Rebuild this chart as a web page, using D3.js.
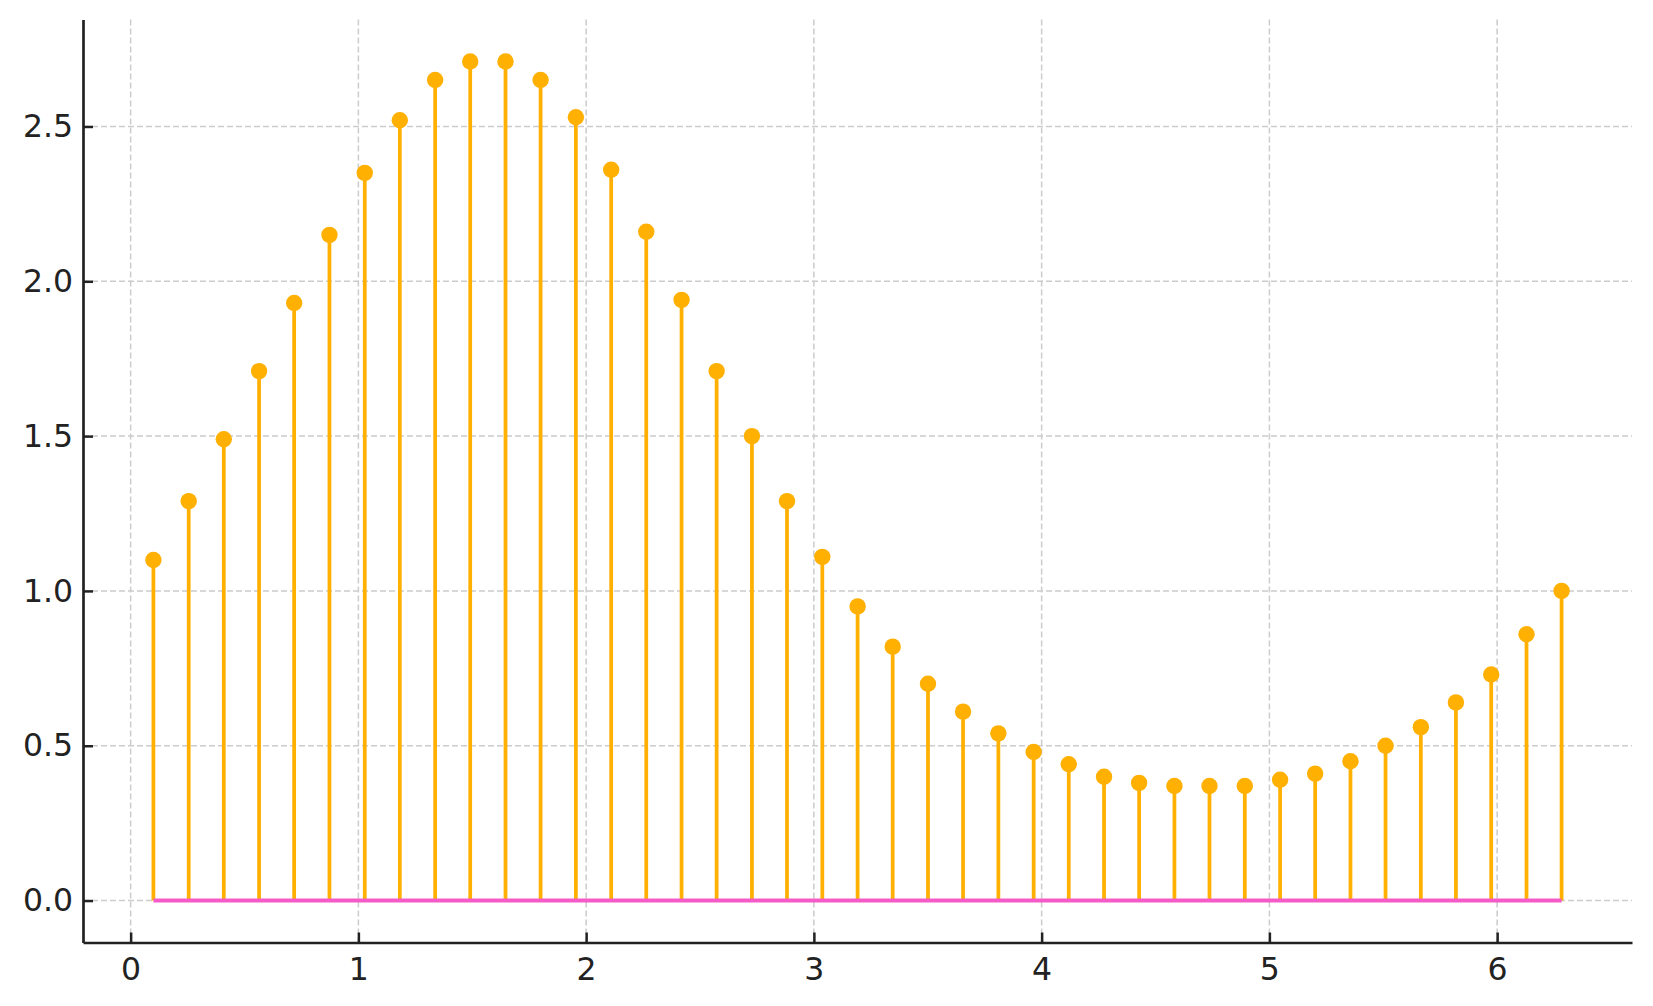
<!DOCTYPE html>
<html>
<head>
<meta charset="utf-8">
<script src="https://cdn.jsdelivr.net/npm/d3@7"></script>
<style>
    body { margin: 0; background: #fff; }
    svg { display: block; font-family: "DejaVu Sans", sans-serif; }
</style>
</head>
<body>
<svg id="chart" width="1653" height="1006"></svg>
<script>
"use strict"

// stem positions (x) and heights (y)
const xValues = [
    0.100, 0.255, 0.409, 0.564, 0.718, 0.873, 1.028, 1.182, 1.337, 1.491,
    1.646, 1.800, 1.955, 2.110, 2.264, 2.419, 2.573, 2.728, 2.882, 3.037,
    3.192, 3.346, 3.501, 3.655, 3.810, 3.965, 4.119, 4.274, 4.428, 4.583,
    4.737, 4.892, 5.047, 5.201, 5.356, 5.510, 5.665, 5.819, 5.974, 6.129,
    6.283
]
const yValues = [
    1.10, 1.29, 1.49, 1.71, 1.93, 2.15, 2.35, 2.52, 2.65, 2.71,
    2.71, 2.65, 2.53, 2.36, 2.16, 1.94, 1.71, 1.50, 1.29, 1.11,
    0.95, 0.82, 0.70, 0.61, 0.54, 0.48, 0.44, 0.40, 0.38, 0.37,
    0.37, 0.37, 0.39, 0.41, 0.45, 0.50, 0.56, 0.64, 0.73, 0.86,
    1.00
]
const xTicks = [0, 1, 2, 3, 4, 5, 6]
const yTicks = [0.0, 0.5, 1.0, 1.5, 2.0, 2.5]

const stemColor = "#ffb000"
const baseColor = "#f55bc8"
const inkColor = "#222222"

const margin = { top: 19.5, right: 21, bottom: 63.5, left: 83 }
const svg = d3.select("#chart")
const width = +svg.attr("width") - margin.left - margin.right
const height = +svg.attr("height") - margin.top - margin.bottom

const g = svg.append("g").attr("transform", `translate(${margin.left},${margin.top})`)

// matplotlib-style 5% margins around the data
const xPad = (d3.max(xValues) - d3.min(xValues)) * 0.05
const yPad = (d3.max(yValues) - 0) * 0.05

const x = d3.scaleLinear()
    .domain([d3.min(xValues) - xPad, d3.max(xValues) + xPad])
    .range([0, width])

const y = d3.scaleLinear()
    .domain([0 - yPad, d3.max(yValues) + yPad])
    .range([height, 0])

// grid
const grid = g.append("g").attr("class", "grid")
grid.selectAll(".gx")
    .data(xTicks)
    .join("line")
    .attr("x1", d => x(d)).attr("x2", d => x(d))
    .attr("y1", 0).attr("y2", height)
grid.selectAll(".gy")
    .data(yTicks)
    .join("line")
    .attr("x1", 0).attr("x2", width)
    .attr("y1", d => y(d)).attr("y2", d => y(d))
grid.selectAll("line")
    .attr("stroke", "#cccccc")
    .attr("stroke-width", 1.5)
    .attr("stroke-dasharray", "6,3")

// stems
const points = xValues.map((d, i) => ({ x: d, y: yValues[i] }))

g.append("g").selectAll("line")
    .data(points)
    .join("line")
    .attr("x1", d => x(d.x)).attr("x2", d => x(d.x))
    .attr("y1", y(0)).attr("y2", d => y(d.y))
    .attr("stroke", stemColor)
    .attr("stroke-width", 3.75)

// baseline
g.append("line")
    .attr("x1", x(d3.min(xValues))).attr("x2", x(d3.max(xValues)))
    .attr("y1", y(0)).attr("y2", y(0))
    .attr("stroke", baseColor)
    .attr("stroke-width", 4)

// markers
g.append("g").selectAll("circle")
    .data(points)
    .join("circle")
    .attr("cx", d => x(d.x))
    .attr("cy", d => y(d.y))
    .attr("r", 8.2)
    .attr("fill", stemColor)

// axes, ticks pointing inward
const xAxis = g.append("g")
    .attr("transform", `translate(0,${height})`)
    .call(d3.axisBottom(x).tickValues(xTicks).tickFormat(d3.format("d"))
        .tickSizeInner(-10).tickSizeOuter(0).tickPadding(15))

const yAxis = g.append("g")
    .call(d3.axisLeft(y).tickValues(yTicks).tickFormat(d3.format(".1f"))
        .tickSizeInner(-10).tickSizeOuter(0).tickPadding(10))

for (const ax of [xAxis, yAxis]) {
    ax.select(".domain").attr("stroke", inkColor).attr("stroke-width", 2.7)
    ax.selectAll(".tick line").attr("stroke", inkColor).attr("stroke-width", 2.5)
    ax.selectAll(".tick text")
        .attr("fill", inkColor)
        .style("font-size", "31.5px")
        .style("font-family", "'DejaVu Sans', sans-serif")
}
</script>
</body>
</html>
